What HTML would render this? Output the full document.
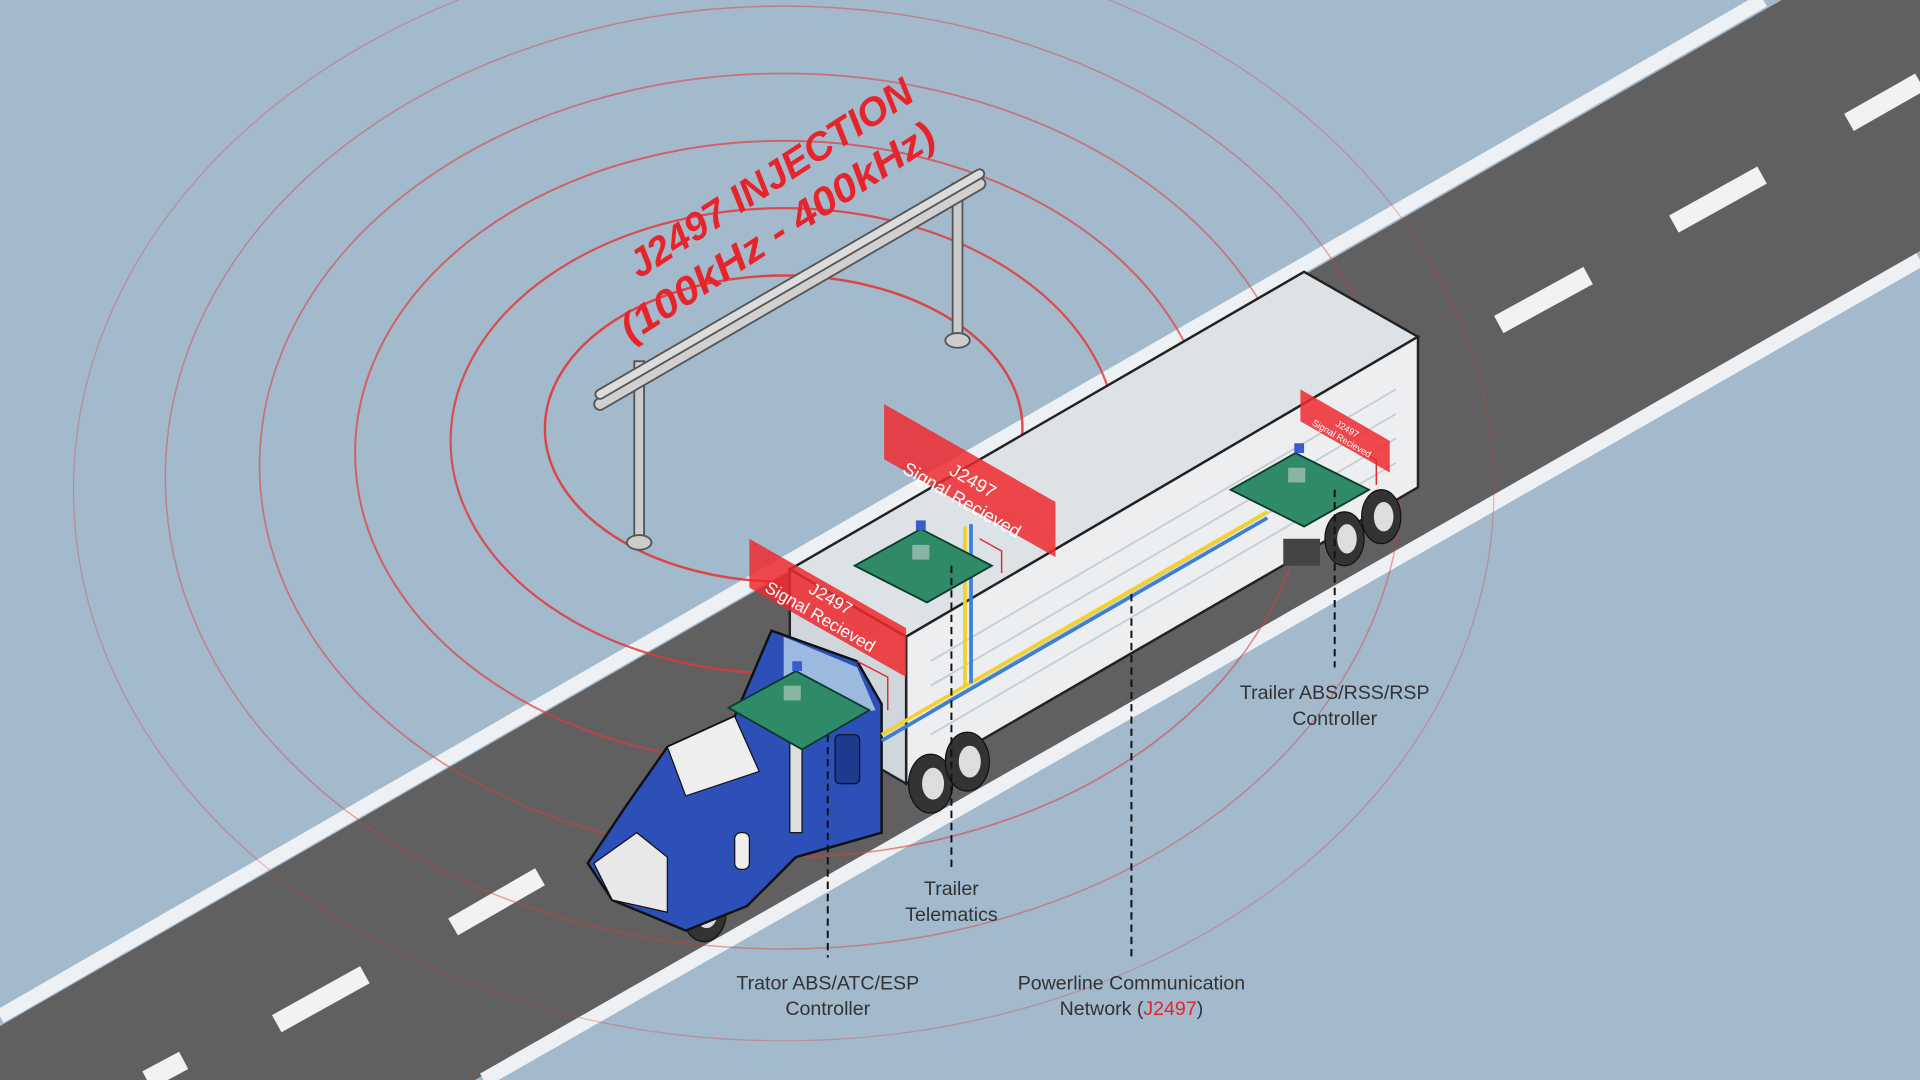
<!DOCTYPE html>
<html><head><meta charset="utf-8"><style>
html,body{margin:0;padding:0;width:1920px;height:1080px;overflow:hidden;background:#a3b9cc}
svg{display:block}
text{font-family:"Liberation Sans",sans-serif}
</style></head><body>
<svg width="1920" height="1080" viewBox="0 0 1568 882" preserveAspectRatio="none">
<rect width="1568" height="882" fill="#a3b9cc"/>
<polygon points="0,838 1455,0 1568,0 1568,205 388,882 0,882" fill="#606060"/>
<line x1="0" y1="830" x2="1440" y2="0" stroke="#eef1f3" stroke-width="12"/>
<line x1="395" y1="882" x2="1568" y2="212" stroke="#eef1f3" stroke-width="12"/>
<g stroke="#f2f2f2" stroke-width="16">
<line x1="226" y1="836" x2="298" y2="796"/>
<line x1="370" y1="757" x2="441" y2="716"/>
<line x1="1224" y1="265" x2="1297" y2="225"/>
<line x1="1367" y1="183" x2="1439" y2="143"/>
<line x1="1510" y1="100" x2="1568" y2="67"/>
<line x1="120" y1="882" x2="150" y2="866"/>
</g>
<g fill="none" stroke="#e03a3a">
<ellipse cx="640" cy="350" rx="195" ry="125" stroke-width="2" opacity=".9"/>
<ellipse cx="640" cy="360" rx="272" ry="190" stroke-width="1.8" opacity=".85"/>
<ellipse cx="640" cy="370" rx="350" ry="255" stroke-width="1.6" opacity=".7"/>
<ellipse cx="640" cy="380" rx="428" ry="320" stroke-width="1.4" opacity=".55"/>
<ellipse cx="640" cy="390" rx="505" ry="385" stroke-width="1.2" opacity=".45"/>
<ellipse cx="640" cy="400" rx="580" ry="450" stroke-width="1" opacity=".35"/>
</g>
<g stroke="#555" stroke-width="1.5">
<rect x="518" y="295" width="8" height="148" fill="#ccc"/>
<ellipse cx="522" cy="443" rx="10" ry="6" fill="#ccc"/>
<rect x="778" y="150" width="8" height="128" fill="#ccc"/>
<ellipse cx="782" cy="278" rx="10" ry="6" fill="#ccc"/>
<line x1="490" y1="330" x2="800" y2="150" stroke="#555" stroke-width="11" stroke-linecap="round"/>
<line x1="490" y1="330" x2="800" y2="150" stroke="#d0d0d0" stroke-width="8" stroke-linecap="round"/>
<line x1="490" y1="322" x2="800" y2="142" stroke="#555" stroke-width="9" stroke-linecap="round"/>
<line x1="490" y1="322" x2="800" y2="142" stroke="#dcdcdc" stroke-width="6" stroke-linecap="round"/>
</g>
<g fill="#e8242b" font-weight="bold" font-style="italic" font-size="32">
<text transform="translate(522,228) rotate(-33)" textLength="270" lengthAdjust="spacingAndGlyphs">J2497 INJECTION</text>
<text transform="translate(515,280) rotate(-33)" textLength="300" lengthAdjust="spacingAndGlyphs">(100kHz - 400kHz)</text>
</g>
<polygon points="645,465 1065,222 1158,275 740,520" fill="#dde2e6" stroke="#222" stroke-width="2"/>
<polygon points="740,520 1158,275 1158,398 740,640" fill="#eceef0" stroke="#222" stroke-width="2"/>
<polygon points="645,465 740,520 740,640 645,585" fill="#cfd6dc" stroke="#222" stroke-width="2"/>
<g stroke="#c8cdd2" stroke-width="1.5">
<line x1="760" y1="540" x2="1140" y2="318"/><line x1="760" y1="560" x2="1140" y2="338"/>
<line x1="760" y1="580" x2="1140" y2="358"/><line x1="760" y1="600" x2="1140" y2="378"/>
</g>
<g fill="#333" stroke="#111">
<ellipse cx="760" cy="640" rx="18" ry="24"/><ellipse cx="790" cy="622" rx="18" ry="24"/>
<ellipse cx="1098" cy="440" rx="16" ry="22"/><ellipse cx="1128" cy="422" rx="16" ry="22"/>
<ellipse cx="575" cy="745" rx="18" ry="24"/>
</g>
<g fill="#ddd"><ellipse cx="762" cy="640" rx="9" ry="13"/><ellipse cx="792" cy="622" rx="9" ry="13"/>
<ellipse cx="1100" cy="440" rx="8" ry="12"/><ellipse cx="1130" cy="422" rx="8" ry="12"/><ellipse cx="577" cy="745" rx="9" ry="13"/></g>
<rect x="1048" y="440" width="30" height="22" fill="#444"/>
<polygon points="630,515 700,540 720,575 720,680 650,700 610,740 560,760 500,735 480,705 510,660 545,610 600,585" fill="#2c4fb8" stroke="#111" stroke-width="2"/>
<polygon points="640,520 700,545 715,580 640,590" fill="#b9d4e8" opacity=".8"/>
<polygon points="545,610 600,585 620,630 560,650" fill="#eee" stroke="#111"/>
<polygon points="485,705 520,680 545,700 545,745 500,735" fill="#e8e8e8" stroke="#111"/>
<rect x="645" y="600" width="10" height="80" fill="#ddd" stroke="#111"/>
<rect x="600" y="680" width="12" height="30" rx="5" fill="#eee" stroke="#111"/>
<rect x="682" y="600" width="20" height="40" rx="4" fill="#1d3a8f" stroke="#111"/>
<g fill="none" stroke-width="3">
<polyline points="720,600 780,565 1035,418" stroke="#f2d22a"/>
<polyline points="720,605 780,570 1035,423" stroke="#3d7fd0"/>
<polyline points="788,430 788,560" stroke="#f2d22a"/><polyline points="793,428 793,558" stroke="#3d7fd0"/>
</g>
<g stroke="#0c3b2c" stroke-width="1.5" fill="#2f8a68">
<polygon points="595,578 650,548 710,580 655,612"/>
<polygon points="698,462 752,432 810,462 757,492"/>
<polygon points="1005,400 1058,370 1118,400 1065,430"/>
</g>
<g fill="#8ab5a4"><rect x="640" y="560" width="14" height="12"/><rect x="745" y="445" width="14" height="12"/><rect x="1052" y="382" width="14" height="12"/></g>
<g fill="#3a5bd0"><rect x="647" y="540" width="8" height="8"/><rect x="748" y="425" width="8" height="8"/><rect x="1057" y="362" width="8" height="8"/></g>
<g fill="#ee2a2f" opacity=".85">
<polygon points="612,440 740,513 740,553 612,480"/>
<polygon points="722,330 862,410 862,455 722,375"/>
<polygon points="1062,318 1135,360 1135,386 1062,344"/>
</g>
<g fill="none" stroke="#e02a2a" stroke-width="1.2">
<polyline points="700,540 725,553 725,580"/><polyline points="800,440 818,450 818,468"/><polyline points="1118,372 1124,376 1124,396"/>
</g>
<g fill="#fff" font-size="14" text-anchor="middle">
<text transform="translate(672,500) rotate(30)"><tspan x="0" y="-8">J2497</tspan><tspan x="0" y="9">Signal Recieved</tspan></text>
<text transform="translate(788,404) rotate(30)" font-size="15"><tspan x="0" y="-8">J2497</tspan><tspan x="0" y="10">Signal Recieved</tspan></text>
<text transform="translate(1097,356) rotate(30)" font-size="7.5"><tspan x="0" y="-4">J2497</tspan><tspan x="0" y="5">Signal Recieved</tspan></text>
</g>
<g stroke="#111" stroke-width="1.6" stroke-dasharray="6,4">
<line x1="676" y1="600" x2="676" y2="782"/>
<line x1="777" y1="462" x2="777" y2="708"/>
<line x1="924" y1="485" x2="924" y2="782"/>
<line x1="1090" y1="400" x2="1090" y2="545"/>
</g>
<g fill="#333" font-size="16" text-anchor="middle">
<text x="777" y="731">Trailer</text><text x="777" y="752">Telematics</text>
<text x="676" y="808">Trator ABS/ATC/ESP</text><text x="676" y="829">Controller</text>
<text x="924" y="808">Powerline Communication</text><text x="924" y="829">Network (<tspan fill="#e8242b">J2497</tspan>)</text>
<text x="1090" y="571">Trailer ABS/RSS/RSP</text><text x="1090" y="592">Controller</text>
</g>
</svg>
</body></html>
